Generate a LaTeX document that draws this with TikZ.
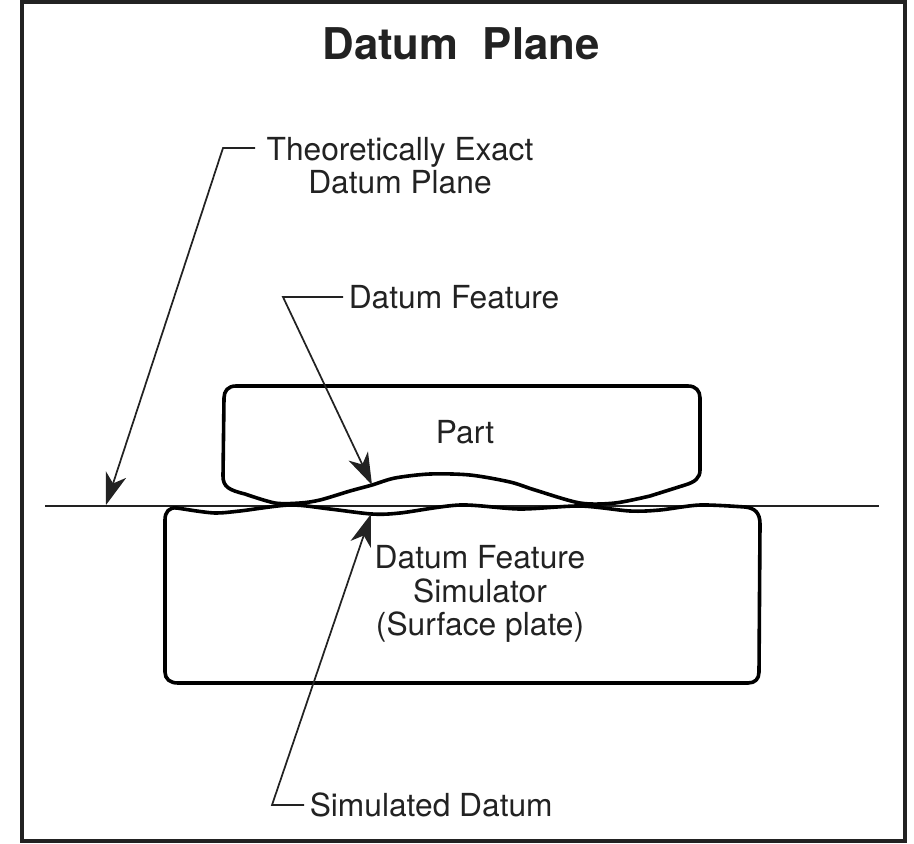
\documentclass[tikz,border=0pt]{standalone}
\usepackage{fontspec}
\setmainfont{TeX Gyre Heros}
\usetikzlibrary{arrows.meta}
\definecolor{inkdark}{HTML}{222222}
\tikzset{
    outline/.style={line width=2.7pt,black,line join=round},
    leader/.style={line width=1.3pt,inkdark,line join=miter,-{Stealth[length=24pt,width=16pt,inset=7pt]}},
    callout/.style={inkdark,inner sep=0pt,font=\fontsize{23.8}{25}\selectfont,align=center}
}
\begin{document}
\begin{tikzpicture}[x=0.75pt,y=-0.75pt]
    \useasboundingbox (0,0) rectangle (914,843);
    \draw[line width=3pt,inkdark] (22,1.5) rectangle (905,841);
    \node[inkdark,inner sep=0pt,font=\fontsize{32.8}{36}\bfseries\selectfont] (title) at (461,44) {Datum\ \ Plane};

    \draw[line width=1pt,inkdark] (45,506) -- (879,506);

    % part
    \draw[outline] (236,386) -- (688,386) .. controls (696,386) and (700,391) .. (700,398) -- (700,470) .. controls (700,478) and (695,482) .. (685,485)
        -- plot[smooth,tension=0.5] coordinates {(650,496) (615,503) (580,503) (535,490) (510,482) (470,475) (430,474) (395,478) (372,485) (350,491) (320,500) (300,503) (275,503) (245,494)}
        .. controls (229,490) and (223,487) .. (223,476) -- (224,398) .. controls (224,391) and (228,386) .. (236,386) -- cycle;
    % plate
    \draw[outline] (165,520) .. controls (165,512) and (169,507) .. (177,508)
        -- plot[smooth,tension=0.5] coordinates {(190,510) (215,513) (240,511) (290,505) (330,509) (372,514) (400,513) (460,505) (520,509) (580,506) (630,511) (660,510) (700,505) (745,507)}
        .. controls (755,508) and (760,513) .. (760,524) -- (759,672) .. controls (759,679) and (755,683) .. (748,683) -- (178,683) .. controls (170,683) and (165,679) .. (165,672) -- cycle;

    \node[callout] (exact) at (400,165.5) {Theoretically Exact\\Datum Plane};
    \node[callout,anchor=west] (feature) at (348.5,297) {Datum Feature};
    \node[callout] (partlabel) at (465,432) {Part};
    \node[callout] (plate) at (480,594) {Datum Feature\\Simulator\\(Surface plate)};
    \node[callout,anchor=west] (simulated) at (309.5,805) {Simulated Datum};

    \coordinate (exactstart) at (255,148);
    \coordinate (exacttip) at (106,505);
    \coordinate (featuretip) at (372,485);
    \coordinate (simtip) at (371,514);

    \draw[leader] (exactstart) -- (223,148) -- (exacttip);
    \draw[leader] ([xshift=-4pt]feature.west) -- (283,297) -- (featuretip);
    \draw[leader] ([xshift=-4pt]simulated.west) -- (272,805) -- (simtip);
\end{tikzpicture}
\end{document}
